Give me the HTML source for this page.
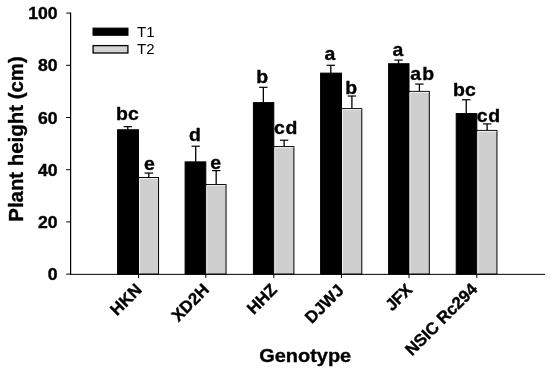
<!DOCTYPE html><html><head><meta charset="utf-8"><title>Plant height</title><style>html,body{margin:0;padding:0;background:#fff}svg{display:block}text{font-family:"Liberation Sans",Arial,sans-serif;fill:#000}.b{font-weight:bold;stroke:#000;stroke-width:0.35px;stroke-linejoin:round}</style></head><body>
<svg width="550" height="371" viewBox="0 0 550 371">
<rect width="550" height="371" fill="#fff"/>
<path d="M127.80 129.77V126.64" stroke="#000" stroke-width="1.3" fill="none"/>
<path d="M123.60 126.64H132.00" stroke="#000" stroke-width="1.2" fill="none"/>
<path d="M148.78 177.53V173.09" stroke="#000" stroke-width="1.3" fill="none"/>
<path d="M144.58 173.09H152.97" stroke="#000" stroke-width="1.2" fill="none"/>
<rect x="117.60" y="129.77" width="20.90" height="144.33" fill="#000" stroke="#000" stroke-width="1"/>
<rect x="138.50" y="177.53" width="20.05" height="96.57" fill="#cfcfcf" stroke="#000" stroke-width="1"/>
<path d="M139.50 273.60V178.53H158.05" stroke="#f2f2f2" stroke-width="0.9" fill="none"/>
<path d="M138.50 274.1V278.1" stroke="#000" stroke-width="1"/>
<text transform="translate(142.80 290.80) rotate(-45)" font-size="16.8" class="b" text-anchor="end" letter-spacing="0">HKN</text>
<path d="M195.70 161.87V146.21" stroke="#000" stroke-width="1.3" fill="none"/>
<path d="M191.50 146.21H199.90" stroke="#000" stroke-width="1.2" fill="none"/>
<path d="M216.18 184.58V170.61" stroke="#000" stroke-width="1.3" fill="none"/>
<path d="M211.98 170.61H220.38" stroke="#000" stroke-width="1.2" fill="none"/>
<rect x="185.10" y="161.87" width="20.70" height="112.23" fill="#000" stroke="#000" stroke-width="1"/>
<rect x="205.80" y="184.58" width="20.25" height="89.52" fill="#cfcfcf" stroke="#000" stroke-width="1"/>
<path d="M206.80 273.60V185.58H225.55" stroke="#f2f2f2" stroke-width="0.9" fill="none"/>
<path d="M205.80 274.1V278.1" stroke="#000" stroke-width="1"/>
<text transform="translate(210.10 290.80) rotate(-45)" font-size="16.8" class="b" text-anchor="end" letter-spacing="0">XD2H</text>
<path d="M263.35 102.62V87.30" stroke="#000" stroke-width="1.3" fill="none"/>
<path d="M259.15 87.30H267.55" stroke="#000" stroke-width="1.2" fill="none"/>
<path d="M284.10 146.60V140.21" stroke="#000" stroke-width="1.3" fill="none"/>
<path d="M279.90 140.21H288.30" stroke="#000" stroke-width="1.2" fill="none"/>
<rect x="253.40" y="102.62" width="20.40" height="171.48" fill="#000" stroke="#000" stroke-width="1"/>
<rect x="273.80" y="146.60" width="20.10" height="127.50" fill="#cfcfcf" stroke="#000" stroke-width="1"/>
<path d="M274.80 273.60V147.60H293.40" stroke="#f2f2f2" stroke-width="0.9" fill="none"/>
<path d="M273.80 274.1V278.1" stroke="#000" stroke-width="1"/>
<text transform="translate(278.10 290.80) rotate(-45)" font-size="16.8" class="b" text-anchor="end" letter-spacing="0">HHZ</text>
<path d="M330.80 73.13V65.30" stroke="#000" stroke-width="1.3" fill="none"/>
<path d="M326.60 65.30H335.00" stroke="#000" stroke-width="1.2" fill="none"/>
<path d="M351.90 108.63V96.02" stroke="#000" stroke-width="1.3" fill="none"/>
<path d="M347.70 96.02H356.10" stroke="#000" stroke-width="1.2" fill="none"/>
<rect x="320.60" y="73.13" width="20.90" height="200.97" fill="#000" stroke="#000" stroke-width="1"/>
<rect x="341.50" y="108.63" width="20.30" height="165.47" fill="#cfcfcf" stroke="#000" stroke-width="1"/>
<path d="M342.50 273.60V109.63H361.30" stroke="#f2f2f2" stroke-width="0.9" fill="none"/>
<path d="M341.50 274.1V278.1" stroke="#000" stroke-width="1"/>
<text transform="translate(344.80 291.40) rotate(-45)" font-size="16.8" class="b" text-anchor="end" letter-spacing="0">DJWJ</text>
<path d="M398.55 63.73V60.08" stroke="#000" stroke-width="1.3" fill="none"/>
<path d="M394.35 60.08H402.75" stroke="#000" stroke-width="1.2" fill="none"/>
<path d="M419.40 91.40V84.09" stroke="#000" stroke-width="1.3" fill="none"/>
<path d="M415.20 84.09H423.60" stroke="#000" stroke-width="1.2" fill="none"/>
<rect x="388.60" y="63.73" width="20.40" height="210.37" fill="#000" stroke="#000" stroke-width="1"/>
<rect x="409.00" y="91.40" width="20.30" height="182.70" fill="#cfcfcf" stroke="#000" stroke-width="1"/>
<path d="M410.00 273.60V92.40H428.80" stroke="#f2f2f2" stroke-width="0.9" fill="none"/>
<path d="M409.00 274.1V278.1" stroke="#000" stroke-width="1"/>
<text transform="translate(413.00 291.10) rotate(-45)" font-size="16.8" class="b" text-anchor="end" letter-spacing="-0.5">JFX</text>
<path d="M466.25 113.59V99.75" stroke="#000" stroke-width="1.3" fill="none"/>
<path d="M462.05 99.75H470.45" stroke="#000" stroke-width="1.2" fill="none"/>
<path d="M487.12 130.42V123.89" stroke="#000" stroke-width="1.3" fill="none"/>
<path d="M482.93 123.89H491.32" stroke="#000" stroke-width="1.2" fill="none"/>
<rect x="456.20" y="113.59" width="20.60" height="160.51" fill="#000" stroke="#000" stroke-width="1"/>
<rect x="476.80" y="130.42" width="20.15" height="143.68" fill="#cfcfcf" stroke="#000" stroke-width="1"/>
<path d="M477.80 273.60V131.42H496.45" stroke="#f2f2f2" stroke-width="0.9" fill="none"/>
<path d="M476.80 274.1V278.1" stroke="#000" stroke-width="1"/>
<text transform="translate(478.30 290.30) rotate(-45)" font-size="16.8" class="b" text-anchor="end" letter-spacing="-0.05">NSIC Rc294</text>
<text transform="translate(127.35 120.44) scale(1.08 1)" font-size="18" class="b" text-anchor="middle" letter-spacing="0">bc</text>
<text transform="translate(149.35 169.80) scale(1.08 1)" font-size="18" class="b" text-anchor="middle" letter-spacing="0">e</text>
<text transform="translate(194.95 140.70) scale(1.08 1)" font-size="18" class="b" text-anchor="middle" letter-spacing="0">d</text>
<text transform="translate(215.65 168.80) scale(1.08 1)" font-size="18" class="b" text-anchor="middle" letter-spacing="0">e</text>
<text transform="translate(262.25 83.10) scale(1.08 1)" font-size="18" class="b" text-anchor="middle" letter-spacing="0">b</text>
<text transform="translate(285.95 133.90) scale(1.08 1)" font-size="18" class="b" text-anchor="middle" letter-spacing="0.6">cd</text>
<text transform="translate(329.85 60.10) scale(1.08 1)" font-size="18" class="b" text-anchor="middle" letter-spacing="0">a</text>
<text transform="translate(351.25 93.50) scale(1.08 1)" font-size="18" class="b" text-anchor="middle" letter-spacing="0">b</text>
<text transform="translate(397.95 55.60) scale(1.08 1)" font-size="18" class="b" text-anchor="middle" letter-spacing="0">a</text>
<text transform="translate(422.90 79.50) scale(1.08 1)" font-size="18" class="b" text-anchor="middle" letter-spacing="1.3">ab</text>
<text transform="translate(464.35 95.95) scale(1.08 1)" font-size="18" class="b" text-anchor="middle" letter-spacing="0">bc</text>
<text transform="translate(488.85 121.50) scale(1.08 1)" font-size="18" class="b" text-anchor="middle" letter-spacing="0.8">cd</text>
<path d="M70.6 12.600000000000023V274.6" stroke="#000" stroke-width="1.2" fill="none"/>
<path d="M70.0 274.35H545" stroke="#000" stroke-width="1" fill="none"/>
<path d="M66.2 274.10H70.5" stroke="#000" stroke-width="1"/>
<text transform="translate(57.5 280.10) scale(1.1 1)" font-size="16" class="b" text-anchor="end">0</text>
<path d="M66.2 221.90H70.5" stroke="#000" stroke-width="1"/>
<text transform="translate(57.5 227.90) scale(1.1 1)" font-size="16" class="b" text-anchor="end">20</text>
<path d="M66.2 169.70H70.5" stroke="#000" stroke-width="1"/>
<text transform="translate(57.5 175.70) scale(1.1 1)" font-size="16" class="b" text-anchor="end">40</text>
<path d="M66.2 117.50H70.5" stroke="#000" stroke-width="1"/>
<text transform="translate(57.5 123.50) scale(1.1 1)" font-size="16" class="b" text-anchor="end">60</text>
<path d="M66.2 65.30H70.5" stroke="#000" stroke-width="1"/>
<text transform="translate(57.5 71.30) scale(1.1 1)" font-size="16" class="b" text-anchor="end">80</text>
<path d="M66.2 13.10H70.5" stroke="#000" stroke-width="1"/>
<text transform="translate(57.5 19.10) scale(1.1 1)" font-size="16" class="b" text-anchor="end">100</text>
<text transform="translate(22.6 139.0) rotate(-90)" font-size="20.4" class="b" text-anchor="middle">Plant height (cm)</text>
<text transform="translate(305.2 362.3) scale(1.05 1)" font-size="19" class="b" text-anchor="middle">Genotype</text>
<rect x="93" y="28.1" width="35" height="7.2" fill="#000" stroke="#000" stroke-width="1"/>
<rect x="93.1" y="45.6" width="34.8" height="7.4" fill="#d3d3d3" stroke="#000" stroke-width="1.3"/>
<text x="137" y="36.8" font-size="15">T1</text>
<text x="137" y="54.3" font-size="15">T2</text>
</svg></body></html>
